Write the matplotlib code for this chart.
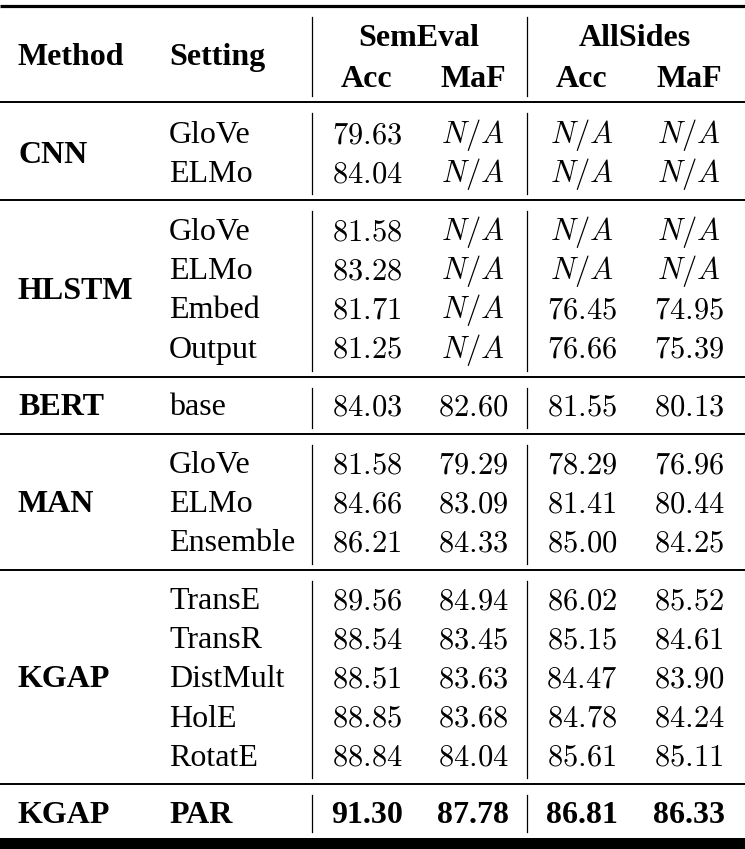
import matplotlib
matplotlib.use("Agg")
import matplotlib.pyplot as plt

# ---- data ----
methods = ["CNN", "HLSTM", "BERT", "MAN", "KGAP", "KGAP"]
settings = [
    ["GloVe", "ELMo"],
    ["GloVe", "ELMo", "Embed", "Output"],
    ["base"],
    ["GloVe", "ELMo", "Ensemble"],
    ["TransE", "TransR", "DistMult", "HolE", "RotatE"],
    ["PAR"],
]
semeval_acc = [[79.63, 84.04], [81.58, 83.28, 81.71, 81.25], [84.03],
               [81.58, 84.66, 86.21], [89.56, 88.54, 88.51, 88.85, 88.84], [91.30]]
semeval_maf = [[None, None], [None, None, None, None], [82.60],
               [79.29, 83.09, 84.33], [84.94, 83.45, 83.63, 83.68, 84.04], [87.78]]
allsides_acc = [[None, None], [None, None, 76.45, 76.66], [81.55],
                [78.29, 81.41, 85.00], [86.02, 85.15, 84.47, 84.78, 85.61], [86.81]]
allsides_maf = [[None, None], [None, None, 74.95, 75.39], [80.13],
                [76.96, 80.44, 84.25], [85.52, 84.61, 83.90, 84.24, 85.11], [86.33]]
datasets = ["SemEval", "AllSides"]
metrics = ["Acc", "MaF"]
col_headers = ["Method", "Setting"]

# ---- layout (pixel coordinates) ----
W, H = 745, 849
plt.rcParams["mathtext.fontset"] = "cm"
FONT = "Liberation Serif"
FS = 23
FS_NUM = 22

fig = plt.figure(figsize=(W / 100, H / 100), dpi=100)
ax = fig.add_axes([0, 0, 1, 1])
ax.set_xlim(0, W)
ax.set_ylim(H, 0)
ax.axis("off")

x_method = 18
x_setting = 169
x_cols = [367, 473, 582, 689]
x_ds = [419, 635]
vlines_x = [312, 527]

top_rule = 5.5
header_rule = 102
block_rules = [200, 377, 434, 570, 784]
bottom_rule_top = 838
block_first = [133, 230, 405, 463, 599, 813]
row_step = 39.2
CAP = 10  # half cap height in px


def txt(x, y, s, ha="center", bold=False, size=FS):
    ax.text(x, y + CAP, s, ha=ha, va="baseline", fontsize=size,
            family=FONT, fontweight="bold" if bold else "normal")


def num(x, y, v, bold=False):
    if bold:
        txt(x, y, f"{v:.2f}", bold=True)
    elif v is None:
        txt(x, y, r"$N/A$", size=FS_NUM)
    else:
        txt(x, y, f"${v:.2f}$", size=FS_NUM)


# header
txt(x_method, 55, col_headers[0], ha="left", bold=True)
txt(x_setting, 55, col_headers[1], ha="left", bold=True)
for xd, d in zip(x_ds, datasets):
    txt(xd, 36, d, bold=True)
for i, xc in enumerate(x_cols):
    txt(xc, 77, metrics[i % 2], bold=True)

# rules
ax.plot([0, W], [top_rule, top_rule], color="black", lw=2.3, solid_capstyle="butt")
ax.plot([0, W], [header_rule, header_rule], color="black", lw=1.4, solid_capstyle="butt")
for r in block_rules:
    ax.plot([0, W], [r, r], color="black", lw=1.4, solid_capstyle="butt")
ax.fill_between([0, W], bottom_rule_top, H, color="black", lw=0)

# vertical segments
bounds = [top_rule, header_rule] + block_rules + [bottom_rule_top]
for a, b in zip(bounds[:-1], bounds[1:]):
    for xv in vlines_x:
        ax.plot([xv, xv], [a + 11, b - 6], color="black", lw=0.9)

# body
for bi, m in enumerate(methods):
    n = len(settings[bi])
    y0 = block_first[bi]
    ys = [y0 + k * row_step for k in range(n)]
    last = bi == len(methods) - 1
    txt(x_method, (ys[0] + ys[-1]) / 2, m, ha="left", bold=True)
    for k in range(n):
        txt(x_setting, ys[k], settings[bi][k], ha="left", bold=last)
        vals = [semeval_acc[bi][k], semeval_maf[bi][k],
                allsides_acc[bi][k], allsides_maf[bi][k]]
        for xc, v in zip(x_cols, vals):
            num(xc, ys[k], v, bold=last)

fig.savefig("out.png", dpi=100)
